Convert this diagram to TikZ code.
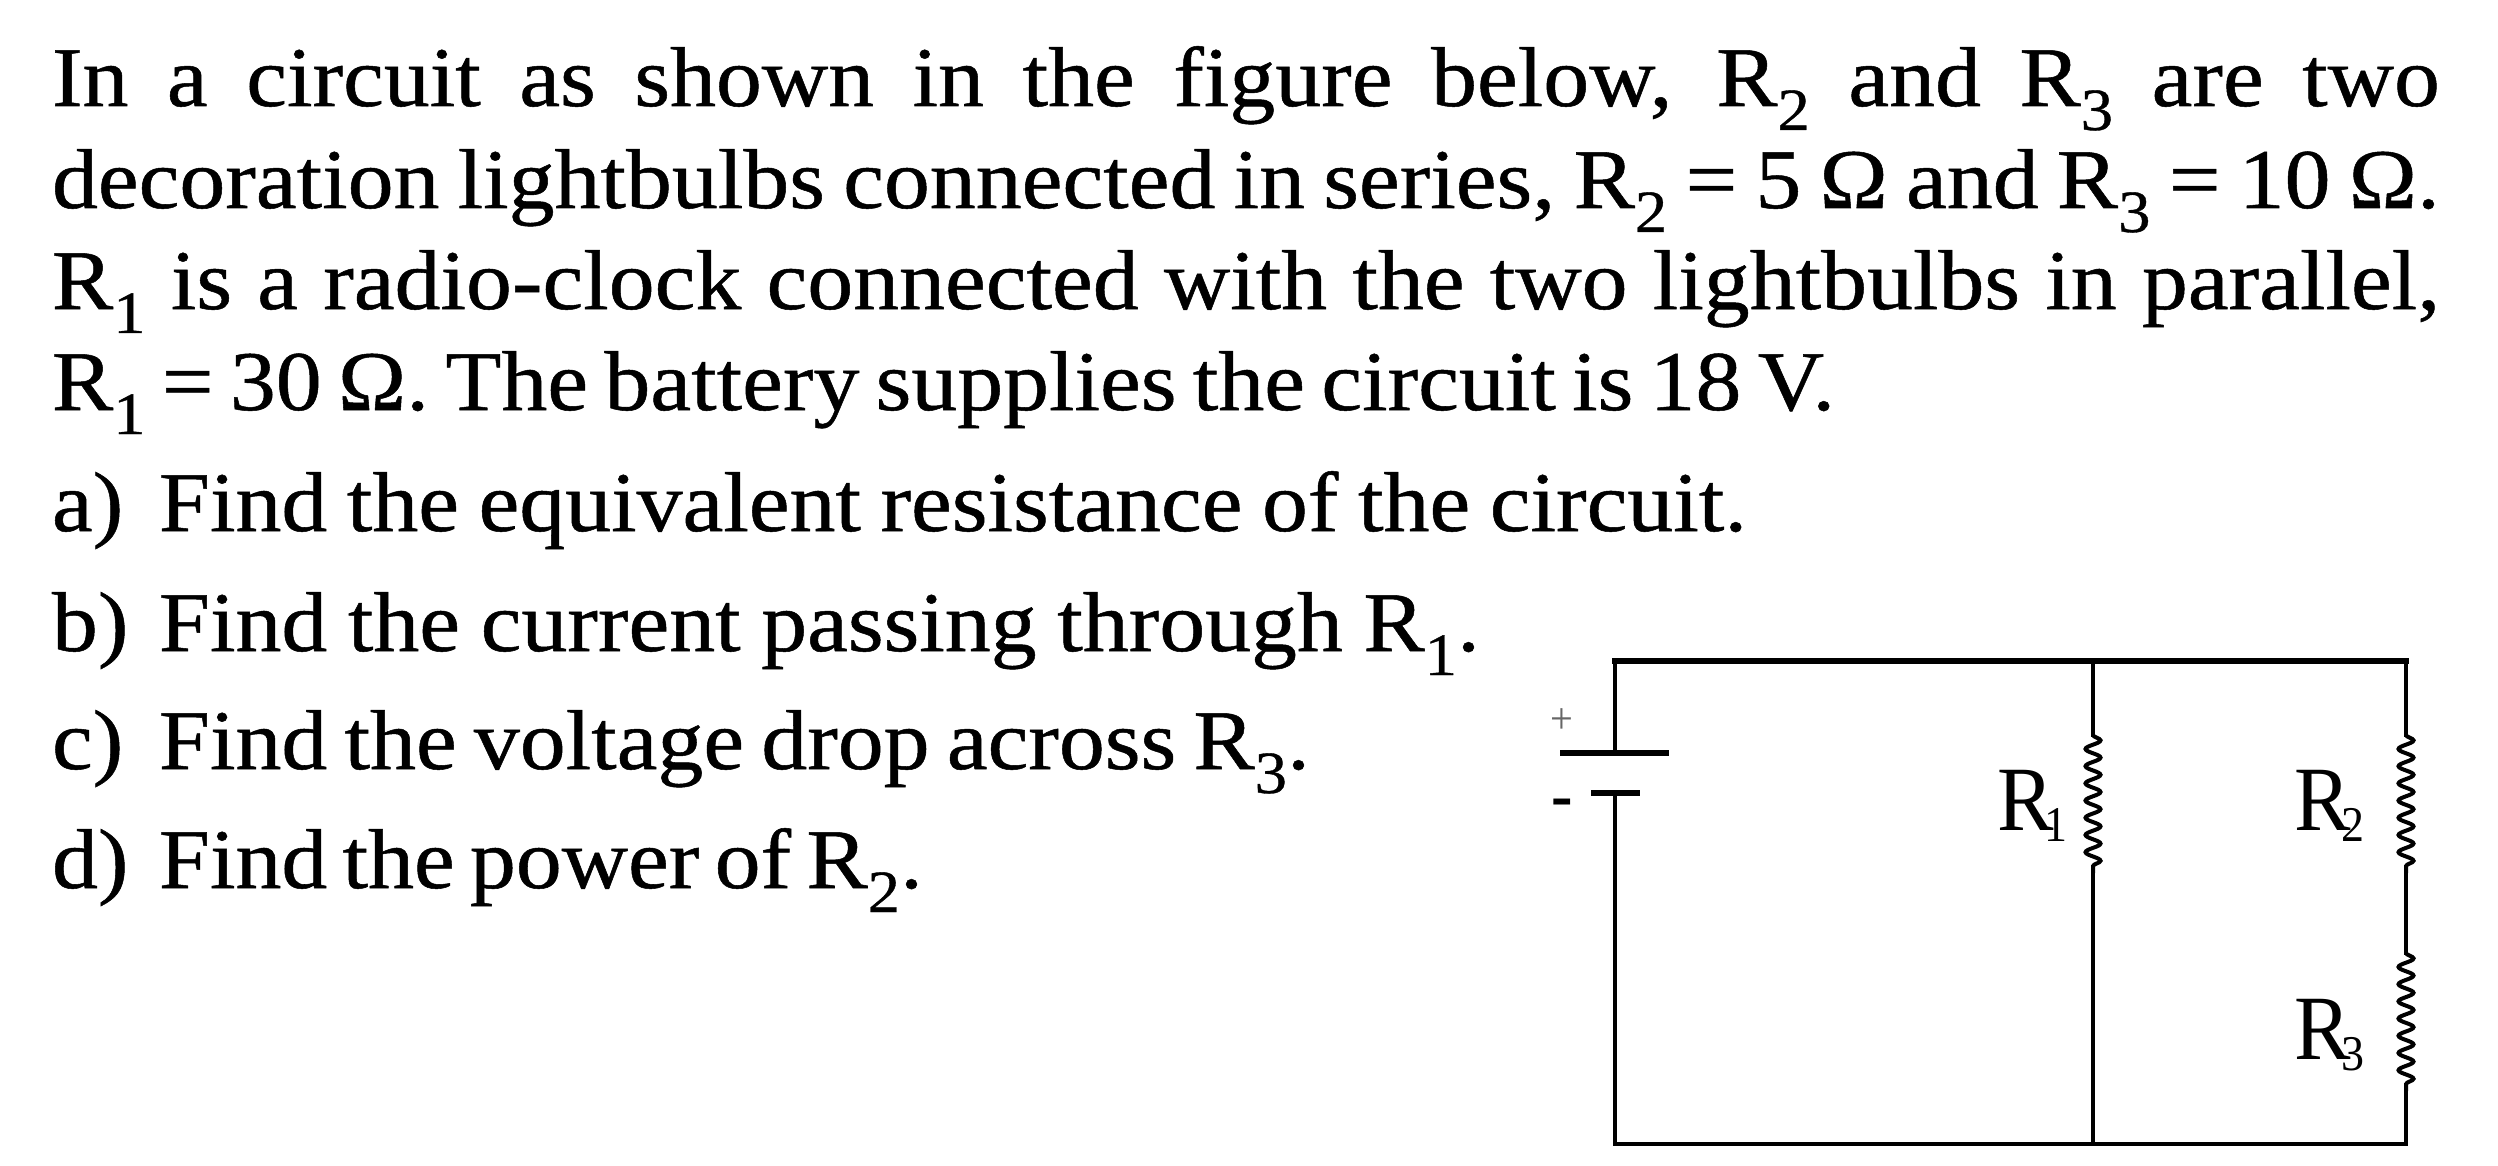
\documentclass[tikz,border=0pt]{standalone}
\usepackage{fontspec}
\setmainfont{Liberation Serif}[FakeStretch=1.08,WordSpace=0.74,FakeBold=0.6]
\newfontfamily\labelfont{Liberation Serif}[FakeStretch=0.92]
\usetikzlibrary{decorations.pathmorphing}
\newcommand{\sbs}[1]{\raisebox{-24pt}{\fontsize{60pt}{60pt}\selectfont #1}}
\newcommand{\lbl}[1]{{\labelfont\fontsize{92pt}{92pt}\selectfont R\kern-9pt\raisebox{-11pt}{\fontsize{50pt}{50pt}\selectfont #1}}}
\newcommand{\qmark}[1]{\makebox[107pt][l]{#1}}
\newcommand{\fit}[2]{\makebox[#1pt][s]{#2}}
\tikzset{
  line/.style={anchor=base west,inner sep=0pt,outer sep=0pt,font=\fontsize{85pt}{85pt}\selectfont},
  wire/.style={draw=black,line width=4pt,line cap=rect},
  topwire/.style={draw=black,line width=6.5pt,line cap=rect},
  plate/.style={draw=black,line width=6.5pt},
  res/.style={draw=black,line width=4pt,decorate,decoration={snake,segment length=17.2pt,amplitude=7.5pt}},
  rlabel/.style={anchor=base west,inner sep=0pt,outer sep=0pt}
}
\begin{document}
\begin{tikzpicture}[x=1pt,y=-1pt]
\useasboundingbox (0,0) rectangle (2498,1166);
\fill[white] (0,0) rectangle (2498,1166);
\node[line] (t1) at (52,106) {\fit{2388}{In a circuit as shown in the figure below, R\sbs{2} and R\sbs{3} are two}};
\node[line] (t2) at (52,208) {\fit{2388}{decoration lightbulbs connected in series, R\sbs{2} = 5 Ω and R\sbs{3} = 10 Ω.}};
\node[line] (t3) at (52,309) {\fit{2388}{R\sbs{1} is a radio-clock connected with the two lightbulbs in parallel,}};
\node[line] (t4) at (52,410) {\fit{1783}{R\sbs{1} = 30 Ω. The battery supplies the circuit is 18 V.}};
\node[line] (qa) at (52,531) {\fit{1695}{\qmark{a)}Find the equivalent resistance of the circuit.}};
\node[line] (qb) at (52,651) {\fit{1428}{\qmark{b)}Find the current passing through R\sbs{1}.}};
\node[line] (qc) at (52,769) {\fit{1258}{\qmark{c)}Find the voltage drop across R\sbs{3}.}};
\node[line] (qd) at (52,888) {\fit{871}{\qmark{d)}Find the power of R\sbs{2}.}};

\coordinate (tl) at (1615,661);
\coordinate (tm) at (2093,661);
\coordinate (tr) at (2406,661);
\coordinate (bl) at (1615,1144);
\coordinate (bm) at (2093,1144);
\coordinate (br) at (2406,1144);
\coordinate (pl) at (1615,753);
\coordinate (pla) at (1560,753);
\coordinate (plb) at (1669,753);
\coordinate (ps) at (1615,793);
\coordinate (psa) at (1591,793);
\coordinate (psb) at (1640,793);
\coordinate (a1) at (2093,735);
\coordinate (b1) at (2093,873);
\coordinate (a2) at (2406,735);
\coordinate (b2) at (2406,873);
\coordinate (a3) at (2406,953);
\coordinate (b3) at (2406,1091);

\draw[topwire] (tl) -- (tr);
\draw[wire] (bl) -- (br);
\draw[wire] (tl) -- (pl);
\draw[wire] (ps) -- (bl);
\draw[plate] (pla) -- (plb);
\draw[plate] (psa) -- (psb);
\draw[wire] (tm) -- (a1);
\draw[res] (a1) -- (b1);
\draw[wire] (b1) -- (bm);
\draw[wire] (tr) -- (a2);
\draw[res] (a2) -- (b2);
\draw[wire] (b2) -- (a3);
\draw[res] (a3) -- (b3);
\draw[wire] (b3) -- (br);

\node[anchor=center,inner sep=0pt,text=black!60,font={\labelfont\fontsize{44pt}{44pt}\selectfont}] (plus) at (1562,721) {+};
\node[anchor=center,inner sep=0pt,font={\labelfont\bfseries\fontsize{70pt}{70pt}\selectfont}] (minus) at (1562,809) {-};
\node[rlabel] (r1) at (1997,830) {\lbl{1}};
\node[rlabel] (r2) at (2294,830) {\lbl{2}};
\node[rlabel] (r3) at (2294,1059) {\lbl{3}};
\end{tikzpicture}
\end{document}
